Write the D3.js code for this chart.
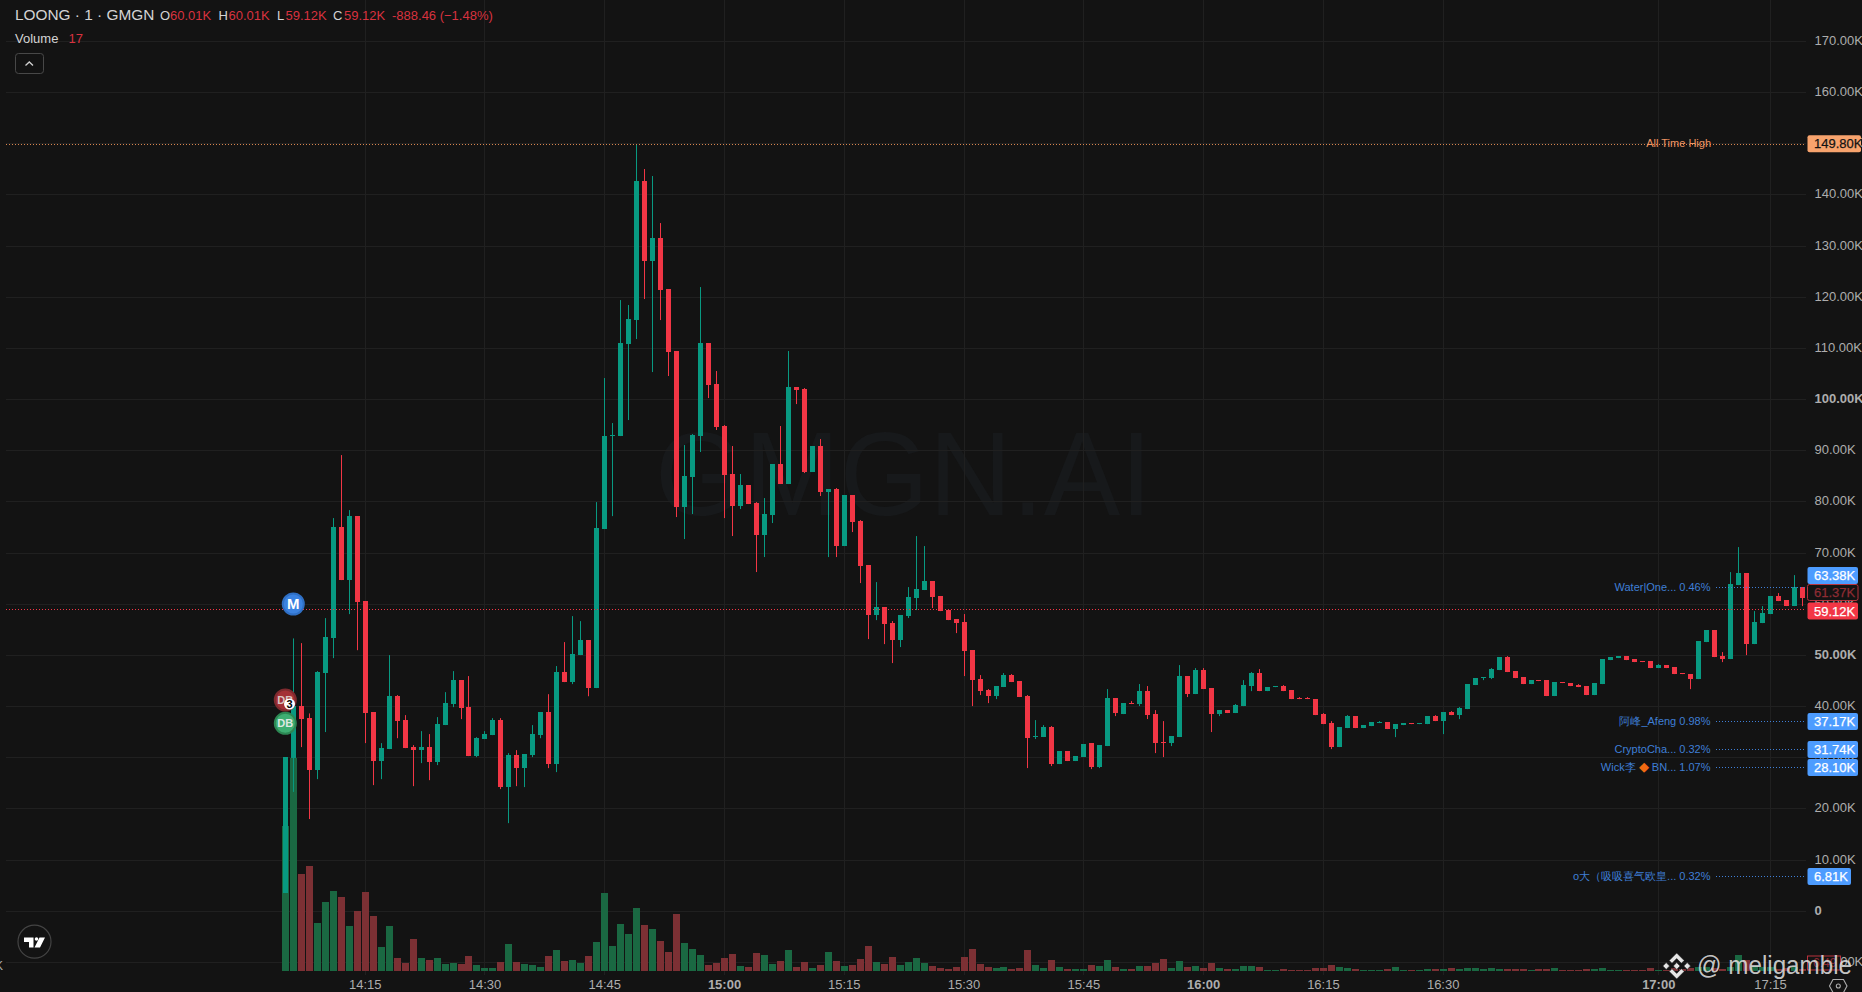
<!DOCTYPE html>
<html><head><meta charset="utf-8">
<style>html,body{margin:0;padding:0;background:#131313;overflow:hidden}svg{display:block}
text{font-family:"Liberation Sans",Arial,sans-serif}</style>
<script src="https://cdn.jsdelivr.net/npm/d3@7"></script></head><body>
<script>
const opens=[3.6,29.97,40.07,37.72,27.56,46.52,53.36,75.06,64.7,77.2,
60.6,38.9,29.3,31.67,42.0,37.33,32.06,31.47,32.06,29.13,
36.36,40.46,45.15,39.87,30.3,33.62,34.4,37.33,24.24,30.49,
27.95,30.49,34.4,38.9,28.73,46.72,44.76,50.04,52.97,43.59,
74.67,92.85,92.85,110.83,115.52,142.69,127.06,131.55,121.58,109.47,
78.97,84.84,92.85,111.03,103.02,94.81,85.43,79.17,83.28,79.76,
73.5,77.41,87.38,83.47,102.43,102.04,85.82,90.9,81.91,82.49,
71.35,81.32,76.24,67.63,57.86,59.43,56.3,52.98,57.67,61.18,
62.75,64.51,61.58,58.84,57.08,56.49,51.02,45.35,43.2,42.03,
43.79,46.14,44.96,42.03,33.95,34.02,35.97,28.74,31.28,29.33,
30.11,32.85,28.15,32.26,41.64,38.51,40.66,40.47,43.01,38.51,
33.05,32.85,34.02,45.94,42.42,47.11,43.6,38.51,39.29,38.71,
40.07,43.98,46.52,43.0,43.78,43.98,43.2,41.64,41.64,41.44,
38.51,36.75,32.06,35.77,38.12,35.77,36.16,36.75,36.94,35.58,
36.36,36.75,36.55,36.55,38.12,37.14,38.9,38.31,39.48,44.18,
45.54,45.54,47.11,49.65,46.91,45.74,44.37,45.15,45.15,42.03,
44.76,44.57,44.18,43.98,42.22,44.37,49.06,49.45,49.84,49.26,
48.87,48.87,47.5,48.08,47.69,46.52,46.33,45.35,52.58,54.92,
49.84,49.26,63.72,66.07,52.19,56.29,58.05,61.57,60.79,59.62,
63.33];
const closes=[30.1,40.07,37.53,27.56,46.72,53.56,75.06,64.7,77.2,60.4,
38.7,29.3,31.86,42.0,37.14,31.86,31.47,32.06,29.13,36.55,
40.66,45.15,39.68,30.3,33.8,34.6,37.33,24.24,30.49,27.95,
30.69,34.6,38.9,28.73,46.72,44.76,50.24,52.97,43.59,74.86,
92.85,92.98,111.03,115.72,142.69,127.06,131.55,121.39,109.27,78.97,
85.03,93.05,111.03,102.82,94.61,85.23,79.17,83.28,79.56,73.5,
77.61,87.38,83.47,102.43,101.84,85.82,90.9,81.91,82.49,71.35,
81.32,76.04,67.44,57.86,59.43,56.1,52.98,57.86,61.38,62.94,
64.51,61.38,58.64,56.88,56.3,50.83,45.16,43.01,42.03,43.99,
46.14,44.77,41.84,33.82,34.15,35.97,28.74,31.28,29.33,30.3,
32.65,28.15,32.45,41.64,38.71,40.66,40.5,43.01,38.32,32.85,
32.9,34.21,45.94,42.42,47.11,43.4,38.51,39.29,38.71,40.27,
44.18,46.52,43.0,43.78,43.98,43.0,41.44,41.44,41.44,38.31,
36.55,32.06,35.97,38.12,35.77,36.36,36.94,36.94,35.58,36.55,
36.75,36.55,36.75,38.12,37.14,38.9,38.31,39.68,44.37,45.54,
45.74,47.3,49.65,46.72,45.54,44.37,45.15,44.96,42.03,44.76,
44.57,43.98,43.78,42.22,44.57,49.26,49.65,49.84,49.06,48.67,
48.67,47.5,48.08,47.5,46.33,46.33,45.35,52.77,54.92,49.65,
49.26,63.92,66.07,52.19,56.49,58.25,61.57,60.59,59.62,63.33,
61.18];
const highs=[30.1,53.3,52.38,38.64,46.91,57.27,76.82,89.13,78.38,77.2,
60.6,38.9,32.84,50.04,42.22,38.31,32.45,35.18,34.6,37.92,
42.8,46.91,45.15,45.94,34.0,35.18,37.72,37.72,30.88,31.47,
30.69,36.36,38.9,42.4,47.9,52.58,57.66,56.68,52.97,79.94,
104.19,95.39,119.43,118.46,149.8,145.04,143.67,134.48,121.58,109.47,
91.09,93.24,121.97,111.03,105.56,95.0,90.9,85.43,83.28,79.95,
80.73,87.38,94.81,109.47,102.43,102.23,90.9,92.27,82.49,82.69,
81.32,81.32,76.43,67.63,64.31,59.43,56.69,57.86,63.33,73.3,
71.35,64.51,61.58,58.84,57.08,58.06,51.02,46.14,43.4,43.99,
46.53,46.33,44.96,42.23,37.34,36.36,36.17,31.28,31.28,30.3,
32.65,32.85,32.45,43.4,41.64,40.66,41.05,44.38,43.99,39.29,
37.14,34.21,48.09,45.94,47.5,47.5,43.6,39.29,39.29,40.47,
45.15,46.72,47.3,43.78,43.98,44.18,43.2,41.83,41.83,41.44,
38.7,37.14,35.97,38.31,38.12,36.36,36.94,37.14,36.94,36.55,
36.75,36.75,36.75,38.12,38.3,38.9,39.09,39.88,44.37,45.54,
45.74,47.5,49.65,49.84,46.91,45.74,45.15,45.15,45.15,44.76,
44.76,44.57,44.37,43.98,44.57,49.26,49.65,49.84,49.84,49.26,
48.87,48.87,48.28,48.08,47.69,46.52,46.33,52.77,54.92,54.92,
50.63,66.26,71.15,66.07,58.64,59.62,61.57,62.16,60.79,65.67,
63.33];
const lows=[3.6,23.3,32.06,18.0,25.8,35.0,49.45,64.7,58.05,51.0,
32.84,24.63,25.8,31.67,33.8,31.86,24.43,28.93,25.6,28.54,
36.36,39.87,37.53,30.3,30.1,33.62,34.4,23.85,17.2,24.43,
24.24,30.1,33.8,27.95,27.17,44.76,44.37,50.04,42.0,43.59,
74.67,77.2,92.85,95.98,111.81,119.63,105.36,115.52,104.58,77.02,
72.72,77.61,89.73,100.28,94.03,76.82,73.31,78.58,79.56,66.27,
69.2,75.85,83.47,83.47,99.1,85.62,85.82,81.13,69.2,69.2,
71.35,74.09,64.12,53.17,56.88,52.19,48.48,51.61,57.28,58.84,
62.75,59.23,58.64,56.88,54.34,45.94,40.08,42.23,40.66,41.44,
43.79,44.77,41.84,27.96,33.63,34.02,28.35,28.74,29.33,29.33,
30.11,27.76,27.96,32.26,38.12,38.51,40.47,40.08,37.54,30.89,
30.11,32.26,34.02,41.84,42.42,43.4,35.0,38.12,38.71,38.71,
40.07,43.0,43.0,43.0,43.78,43.0,41.44,41.44,41.44,38.31,
36.55,31.67,32.06,35.77,35.77,35.77,36.16,36.75,35.58,34.01,
36.36,36.55,36.55,36.55,37.14,34.6,38.31,37.53,39.48,44.18,
45.15,45.35,47.11,46.72,45.54,44.37,44.37,44.96,42.03,42.03,
44.57,43.98,43.78,42.22,42.22,44.37,49.06,49.45,49.06,48.67,
48.67,47.5,47.5,47.5,46.33,46.33,43.39,45.35,52.58,49.65,
48.67,49.26,63.72,50.04,52.19,56.29,58.05,60.59,59.62,59.62,
59.62];
const volumes=[1450,2130,970,1050,480,690,800,740,450,600,
790,550,240,450,130,80,320,130,110,130,
70,80,70,150,60,30,30,90,270,90,
70,60,40,150,210,100,110,80,150,290,
780,250,470,370,630,460,420,300,190,570,
280,220,160,60,80,130,170,50,40,180,
160,70,100,210,40,90,30,60,190,100,
50,60,120,250,90,70,140,60,90,130,
80,50,30,20,40,140,220,70,40,30,
40,20,30,210,60,30,110,40,20,20,
20,60,50,110,40,20,20,50,50,80,
120,30,100,40,50,30,80,30,20,20,
50,50,40,10,10,20,10,10,10,30,
30,60,40,30,20,10,10,10,20,40,
10,10,10,20,20,20,30,20,30,30,
20,30,20,20,20,20,10,20,20,30,
10,10,10,20,20,30,10,10,10,10,
10,30,10,10,30,20,30,40,40,30,
20,40,160,110,50,40,40,20,30,40,
20];
const timeTickBars=[10,25,40,55,70,85,100,115,130,145,172,186];
const timeTickLabels=["14:15","14:30","14:45","15:00","15:15","15:30","15:45","16:00","16:15","16:30","17:00","17:15"];
const boldTimes=["15:00","16:00","17:00"];
const priceTicks=[170,160,150,140,130,120,110,100,90,80,70,60,50,40,30,20,10,0,-10];
const boldPrices=[100,50,0];
const holderNames=["Water|One...","阿峰_Afeng","CryptoCha...","Wick李 ◆ BN...","o大（吸吸喜气欧皇..."];
const holderPcts=["0.46%","0.98%","0.32%","1.07%","0.32%"];
const holderPrices=[63.38,37.17,31.74,28.10,6.81];
const holderBoxCenters=[575.5,721.5,749.5,767.5,876.5];
const athPrice=149.80, lastPrice=59.12, markPrice=61.37;

const W=1862,H=992,UP="#089981",DOWN="#f23645",VUP="#1a6842",VDOWN="#7c3034",GRID="#202020";
const svg=d3.select("body").append("svg").attr("width",W).attr("height",H);
svg.append("rect").attr("width",W).attr("height",H).attr("fill","#131313");
const x=d3.scaleLinear().domain([0,190]).range([285.33,1802.5]);
const y=d3.scaleLinear().domain([170,-10]).range([41.3,962.3]);
const yv=d3.scaleLinear().domain([0,2130]).range([971,758]);
const px=v=>Math.round(v);

// watermark
svg.append("text").attr("x",655).attr("y",515).attr("font-size",119).attr("fill","#17191b")
 .attr("textLength",497).attr("lengthAdjust","spacingAndGlyphs").text("GMGN.AI");

// grid
svg.append("g").selectAll("line").data(priceTicks).join("line")
 .attr("x1",6).attr("x2",1806).attr("y1",d=>px(y(d)-.4)+.5).attr("y2",d=>px(y(d)-.4)+.5).attr("stroke",GRID);
svg.append("g").selectAll("line").data(timeTickBars).join("line")
 .attr("x1",d=>Math.floor(x(d))+.5).attr("x2",d=>Math.floor(x(d))+.5).attr("y1",0).attr("y2",975).attr("stroke",GRID);

// volume
const idx=d3.range(opens.length);
svg.append("g").selectAll("rect").data(idx).join("rect")
 .attr("x",i=>px(x(i)-3.5)).attr("width",7).attr("y",i=>yv(volumes[i])).attr("height",i=>971-yv(volumes[i]))
 .attr("fill",i=>closes[i]>=opens[i]?VUP:VDOWN);

// candles
const col=i=>closes[i]>=opens[i]?UP:DOWN;
svg.append("g").selectAll("rect").data(idx).join("rect")
 .attr("x",i=>Math.floor(x(i))).attr("width",1).attr("y",i=>y(highs[i])).attr("height",i=>y(lows[i])-y(highs[i])).attr("fill",col);
svg.append("g").selectAll("rect").data(idx).join("rect")
 .attr("x",i=>Math.floor(x(i))-2).attr("width",5)
 .attr("y",i=>px(y(Math.max(opens[i],closes[i]))))
 .attr("height",i=>Math.max(1,px(y(Math.min(opens[i],closes[i])))-px(y(Math.max(opens[i],closes[i])))))
 .attr("fill",col);

// price lines
const dotted=(x1,x2,v,c,shift)=>svg.append("line").attr("x1",x1).attr("x2",x2).attr("y1",px(y(v))+.5+(shift||0)).attr("y2",px(y(v))+.5+(shift||0))
 .attr("stroke",c).attr("stroke-width",1).attr("stroke-dasharray","1 2");
dotted(6,1806,athPrice,"#d9854e",-1);
dotted(6,1806,lastPrice,"#f23645");
svg.append("text").attr("x",1711).attr("y",146.5).attr("text-anchor","end").attr("font-size",11).attr("fill","#ef9562").text("All Time High");

// holder labels
const BLUE="#3f7fd6";
holderNames.forEach((n,k)=>{
  dotted(1716,1804,holderPrices[k],BLUE);
  const t=svg.append("text").attr("x",1710.5).attr("y",px(y(holderPrices[k]))+4).attr("text-anchor","end").attr("font-size",11)
    .attr("font-family",'"Liberation Sans","Noto Sans CJK SC",sans-serif').attr("fill",BLUE);
  const parts=n.split("◆");
  t.append("tspan").text(parts[0]);
  if(parts.length>1){t.append("tspan").attr("fill","#f26a12").attr("font-size",13).text("◆");t.append("tspan").text(parts[1]);}
  t.append("tspan").text(" "+holderPcts[k]);
});

// axes
const yAxis=d3.axisRight(y).tickValues(priceTicks).tickSize(0).tickPadding(0).tickFormat(d=>d===0?"0":d3.format(".2f")(d)+"K");
const ga=svg.append("g").attr("transform","translate(1814.5,-1)").call(yAxis);
ga.select(".domain").remove();
ga.selectAll("text").attr("font-size",13).attr("fill","#adadad").attr("font-family",'"Liberation Sans",sans-serif')
 .attr("font-weight",d=>boldPrices.includes(d)?"bold":"normal");
const xAxis=d3.axisBottom(x).tickValues(timeTickBars).tickSize(0).tickPadding(0).tickFormat((d,i)=>timeTickLabels[i]);
const gx=svg.append("g").attr("transform","translate(-0.5,980)").call(xAxis);
gx.select(".domain").remove();
gx.selectAll("text").attr("font-size",13).attr("fill","#adadad").attr("font-family",'"Liberation Sans",sans-serif')
 .attr("font-weight",(d,i)=>boldTimes.includes(timeTickLabels[i])?"bold":"normal");

// price boxes
const box=(cy,h,bg,fg,label,stroke)=>{
  const x0=1807.5, x1=label.length>=7?1861:label.length===5?1851:1858;
  svg.append("rect").attr("x",x0).attr("y",cy-h/2).attr("width",x1-x0).attr("height",h).attr("rx",2).attr("fill",bg)
    .attr("stroke",stroke||"none");
  svg.append("text").attr("x",x0+6.5).attr("y",cy+4.6).attr("font-size",13).attr("fill",fg).attr("stroke",fg).attr("stroke-width",.25).text(label);
};
const ft=v=>d3.format(".2f")(v)+"K";
box(143.7,17,"#f7a36d","#131313",ft(athPrice));
holderPrices.forEach((p,k)=>box(holderBoxCenters[k],17,"#4d9cff","#ffffff",ft(p)));
box(592.5,16,"#131313","#8e2c33",ft(markPrice),"#b8333d");
box(611,17,"#f23645","#ffffff",ft(lastPrice));
svg.append("rect").attr("x",1807.5).attr("y",956).attr("width",33).attr("height",14).attr("fill","#131313").attr("stroke","#b8333d");
svg.append("text").attr("x",1813).attr("y",967).attr("font-size",12).attr("fill","#8e2c33").text("6.49");

// markers
const marker=(cx,cy,bg,br,label,fs,fg)=>{
  svg.append("circle").attr("cx",cx).attr("cy",cy).attr("r",10.5).attr("fill",bg).attr("stroke",br).attr("stroke-width",2);
  svg.append("text").attr("x",cx).attr("y",cy+fs*.36).attr("text-anchor","middle").attr("font-size",fs).attr("font-weight","bold").attr("fill",fg).text(label);
};
marker(293.3,604,"#3b82e0","#2f6fc4","M",15,"#ffffff");
marker(285.3,700,"#a33036","#7e2a2e","DB",11,"#d9c4c4");
svg.append("circle").attr("cx",289.5).attr("cy",704).attr("r",5.5).attr("fill","#ffffff");
svg.append("text").attr("x",289.5).attr("y",708).attr("text-anchor","middle").attr("font-size",11).attr("font-weight","bold").attr("fill","#000").text("3");
marker(285.3,723.3,"#3fae72","#2c8753","DB",11,"#dfe8e2");

// header
const head=svg.append("g");
const T=(xx,yy,s,c,fs)=>head.append("text").attr("x",xx).attr("y",yy).attr("font-size",fs||13).attr("fill",c).text(s);
const TX="#d4d4d4",RD="#d8323f";
T(15,20,"LOONG · 1 · GMGN",TX,15.4);
T(160,19.5,"O",TX);T(170,19.5,"60.01K",RD);T(218.5,19.5,"H",TX);T(228.5,19.5,"60.01K",RD);
T(277,19.5,"L",TX);T(285.5,19.5,"59.12K",RD);T(333,19.5,"C",TX);T(344,19.5,"59.12K",RD);
T(392,19.5,"-888.46 (−1.48%)",RD);
T(15,43,"Volume",TX,13);T(68.5,43,"17",RD,13);
head.append("rect").attr("x",15.5).attr("y",53.5).attr("width",28).attr("height",20).attr("rx",3).attr("fill","none").attr("stroke","#484848");
head.append("path").attr("d","M25.5 65.5 L29.3 62 L33 65.5").attr("fill","none").attr("stroke","#d0d0d0").attr("stroke-width",1.3);

// tradingview logo
svg.append("circle").attr("cx",34.5).attr("cy",941.7).attr("r",16.5).attr("fill","#131313").attr("stroke","#444").attr("stroke-width",1.2);
svg.append("path").attr("fill","#fff").attr("d","M24 937.5h9.5v10h-4.5v-5.5h-5z M39.5 937.5h5.5l-5 10h-5.5z");
svg.append("circle").attr("cx",36.5).attr("cy",939).attr("r",1.8).attr("fill","#fff");
svg.append("text").attr("x",-5).attr("y",970).attr("font-size",12).attr("fill","#aaa").text("K");

// gear
svg.append("path").attr("fill","none").attr("stroke","#adadad").attr("stroke-width",1.1)
 .attr("d","M1833 979.5h10.5l3.5 6.5-3.5 6.5h-10.5l-3.5-6.5z");
svg.append("circle").attr("cx",1838.3).attr("cy",986).attr("r",2).attr("fill","none").attr("stroke","#adadad").attr("stroke-width",1.1);

// credit mark
const lg=svg.append("g").attr("transform","translate(1676.7,966)").attr("fill","#e6e6e6").attr("stroke","#1c1c1c").attr("stroke-width",.6);
lg.append("path").attr("d","M0-13L7.5-5.5 4.7-2.7 0-7.4-4.7-2.7-7.5-5.5Z");
lg.append("path").attr("d","M0 13L7.5 5.5 4.7 2.7 0 7.4-4.7 2.7-7.5 5.5Z");
[[-10.5,0],[0,0],[10.5,0]].forEach(([a,b])=>lg.append("rect").attr("x",a-2.4).attr("y",b-2.4).attr("width",4.8).attr("height",4.8).attr("transform",`rotate(45 ${a} ${b})`));
svg.append("text").attr("x",1697).attr("y",974).attr("font-size",25).attr("font-weight",300).attr("font-family","Roboto,sans-serif")
 .attr("fill","#dcdcdc").attr("fill-opacity",.9).attr("textLength",155).attr("lengthAdjust","spacingAndGlyphs").text("@ meligamble");
</script></body></html>
